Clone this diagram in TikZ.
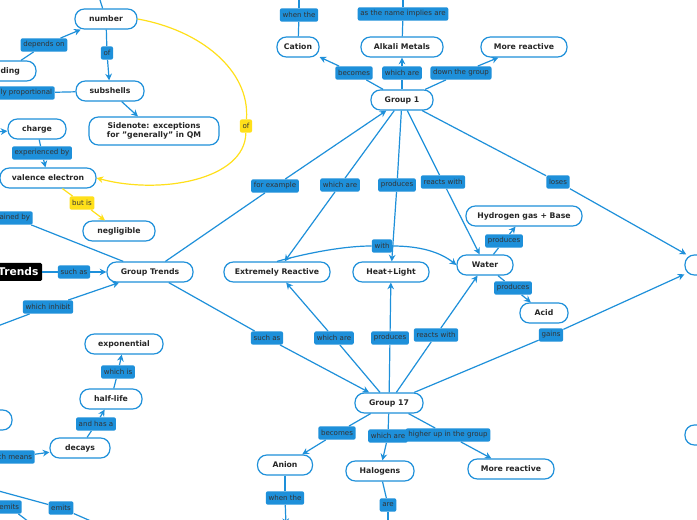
\documentclass[tikz,border=0pt]{standalone}
\usepackage{fontspec}
\setmainfont{DejaVu Sans}
\usetikzlibrary{arrows.meta}
\definecolor{bl}{HTML}{1E90DA}
\definecolor{yl}{HTML}{FFE01A}
\tikzset{
 nd/.style={draw=bl,line width=0.9pt,rounded corners=7pt,fill=white,minimum height=15pt,minimum width=0.75pt*#1,font=\bfseries\fontsize{5.8}{7}\selectfont,text=black!85,align=center,inner sep=1pt},
 lb/.style={fill=bl,rounded corners=1.5pt,font=\fontsize{5.3}{6}\selectfont,text=black!80,inner sep=2pt,minimum height=10pt},
 ylb/.style={lb,fill=yl},
 e/.style={draw=bl,line width=0.9pt},
 a/.style={e,-{Stealth[length=5pt,width=5pt]}},
 ye/.style={draw=yl,line width=0.9pt},
 ya/.style={ye,-{Stealth[length=5pt,width=5pt]}}}
\begin{document}
\begin{tikzpicture}[x=0.75pt,y=-0.75pt]
\path[use as bounding box,fill=white] (0,0) rectangle (697,520);
\begin{scope}
\clip (0,0) rectangle (697,520);
\coordinate (t1) at (100,0); \coordinate (t2) at (299,0); \coordinate (t3) at (403,0);
\coordinate (l1) at (-5,132); \coordinate (l2) at (-5,327); \coordinate (l3) at (-5,490);
\coordinate (b1) at (286,525); \coordinate (b2) at (388,525); \coordinate (b3) at (100,525); \coordinate (b4) at (33,525);
\node[nd=62] (num) at (106,19) {number};
\node[nd=62] (idg) at (5,71) {\quad iding};
\node[nd=68] (sub) at (110,91) {subshells};
\node[nd=130,minimum height=21pt] (side) at (154,131) {Sidenote: exceptions\\for "generally" in QM};
\node[nd=58] (chg) at (37,129) {charge};
\node[nd=96] (val) at (48,178) {valence electron};
\node[nd=72] (neg) at (119,231) {negligible};
\fill[black,rounded corners=1pt] (-40,263) rectangle (42,281);
\node[text=white,font=\bfseries\fontsize{8}{9}\selectfont\rmfamily,inner sep=1pt,anchor=east] (tr) at (40,272) {Trends};
\node[nd=86] (gt) at (150,272) {Group Trends};
\node[nd=106] (ex) at (277,272) {Extremely Reactive};
\node[nd=76] (hl) at (391,272) {Heat+Light};
\node[nd=56] (wat) at (485,265) {Water};
\node[nd=116] (hyd) at (524,216) {Hydrogen gas + Base};
\node[nd=48] (acid) at (544,313) {Acid};
\node[nd=62] (g1) at (402,100) {Group 1};
\node[nd=42] (cat) at (298,47) {Cation};
\node[nd=82] (alk) at (402,47) {Alkali Metals};
\node[nd=86] (mr1) at (524,47) {More reactive};
\node[nd=40] (rn1) at (705,265) {};
\node[nd=40] (rn2) at (705,435) {};
\node[nd=78] (expo) at (124,344) {exponential};
\node[nd=62] (hal) at (111,399) {half-life};
\node[nd=60] (dec) at (80,448) {decays};
\node[nd=40] (ln) at (-8,420) {};
\node[nd=68] (g17) at (389,403) {Group 17};
\node[nd=55] (an) at (285,465) {Anion};
\node[nd=68] (halo) at (380,471) {Halogens};
\node[nd=86] (mr2) at (511,469) {More reactive};
\draw[e] (num) -- (t1);
\node[lb] (L1) at (44,45) {depends on}; \draw[e] (idg) -- (L1); \draw[a] (L1) -- (num);
\node[lb] (L2) at (107,53) {of}; \draw[e] (num) -- (L2); \draw[a] (L2) -- (sub);
\node[lb,anchor=east] (L3) at (55,93) {ally proportional}; \draw[e] (sub) -- (L3);
\draw[a] (sub) -- (side);
\draw[a] (l1) -- (chg);
\node[lb] (L4) at (42,153) {experienced by}; \draw[e] (chg) -- (L4); \draw[a] (L4) -- (val);
\node[ylb] (Y1) at (246,126) {of};
\draw[ye] (num.east) .. controls (200,30) and (250,70) .. (Y1);
\draw[ya] (Y1) .. controls (245,180) and (160,195) .. (val.east);
\node[ylb] (Y2) at (82,203) {but is}; \draw[ye] (val) -- (Y2); \draw[ya] (Y2) -- (neg);
\node[lb,anchor=east] (L5) at (33,218) {lained by}; \draw[e] (L5) -- (gt);
\node[lb] (L6) at (74,272) {such as}; \draw[e] (42,272) -- (L6); \draw[a] (L6) -- (gt);
\node[lb] (L7) at (48,307) {which inhibit}; \draw[e] (l2) -- (L7); \draw[a] (L7) -- (gt);
\node[lb] (L8) at (275,186) {for example}; \draw[e] (gt) -- (L8); \draw[a] (L8) -- (g1);
\node[lb] (L9) at (267,338) {such as}; \draw[e] (gt) -- (L9); \draw[a] (L9) -- (g17);
\node[lb] (A1) at (340,185) {which are}; \draw[e] (g1) -- (A1); \draw[a] (A1) -- (ex);
\node[lb] (A2) at (397,185) {produces}; \draw[e] (g1) -- (A2); \draw[a] (A2) -- (hl);
\node[lb] (A3) at (443,182) {reacts with}; \draw[e] (g1) -- (A3); \draw[a] (A3) -- (wat);
\node[lb] (A4) at (558,182) {loses}; \draw[e] (g1) -- (A4); \draw[a] (A4) -- (rn1);
\node[lb] (A5) at (382,246) {with};
\draw[e] (ex.north) .. controls (300,255) and (340,246) .. (A5);
\draw[a] (A5) .. controls (420,246) and (440,252) .. (wat.west);
\node[lb] (A6) at (504,241) {produces}; \draw[e] (wat) -- (A6); \draw[a] (A6) -- (hyd);
\node[lb] (A7) at (513,288) {produces}; \draw[e] (wat) -- (A7); \draw[a] (A7) -- (acid);
\node[lb] (B1) at (334,338) {which are}; \draw[e] (g17) -- (B1); \draw[a] (B1) -- (ex);
\node[lb] (B2) at (390,338) {produces}; \draw[e] (g17) -- (B2); \draw[a] (B2) -- (hl);
\node[lb] (B3) at (436,335) {reacts with}; \draw[e] (g17) -- (B3); \draw[a] (B3) -- (wat);
\node[lb] (B4) at (551,335) {gains}; \draw[e] (g17) -- (B4); \draw[a] (B4) -- (rn1);
\node[lb] (C1) at (354,73) {becomes}; \draw[e] (g1) -- (C1); \draw[a] (C1) -- (cat);
\node[lb] (C2) at (402,73) {which are}; \draw[e] (g1) -- (C2); \draw[a] (C2) -- (alk);
\node[lb] (C3) at (461,73) {down the group}; \draw[e] (g1) -- (C3); \draw[a] (C3) -- (mr1);
\node[lb] (C4) at (299,15) {when the}; \draw[e] (cat) -- (C4); \draw[e] (C4) -- (t2);
\node[lb] (C5) at (403,14) {as the name implies are}; \draw[e] (alk) -- (C5); \draw[e] (C5) -- (t3);
\node[lb] (D1) at (337,433) {becomes}; \draw[e] (g17) -- (D1); \draw[a] (D1) -- (an);
\node[lb] (D2) at (388,436) {which are}; \draw[e] (g17) -- (D2); \draw[a] (D2) -- (halo);
\node[lb] (D3) at (448,435) {higher up in the group}; \draw[e] (g17) -- (D3); \draw[a] (D3) -- (mr2);
\node[lb] (D4) at (285,498) {when the}; \draw[e] (an) -- (D4); \draw[a] (D4) -- (b1);
\node[lb] (D5) at (388,505) {are}; \draw[e] (halo) -- (D5); \draw[e] (D5) -- (b2);
\node[lb] (E1) at (118,372) {which is}; \draw[e] (hal) -- (E1); \draw[a] (E1) -- (expo);
\node[lb] (E2) at (96,424) {and has a}; \draw[e] (dec) -- (E2); \draw[a] (E2) -- (hal);
\node[lb,anchor=east] (E3) at (35,457) {ch means}; \draw[a] (E3) -- (dec);
\node[lb] (E4) at (61,508) {emits}; \draw[e] (l3) -- (E4); \draw[e] (E4) -- (b3);
\node[lb,anchor=east] (E5) at (22,507) {emits}; \draw[e] (E5) -- (b4);
\end{scope}
\end{tikzpicture}
\end{document}
